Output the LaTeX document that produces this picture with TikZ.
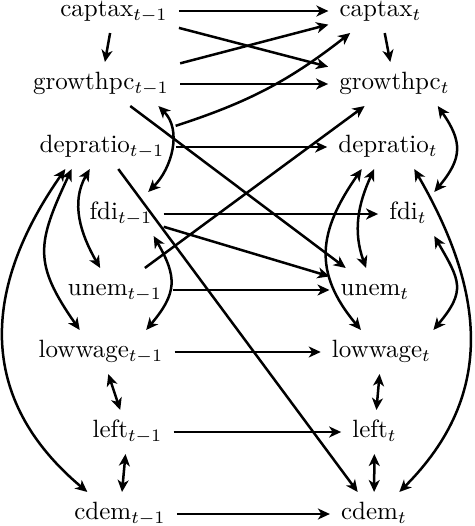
\documentclass[tikz,border=0pt]{standalone}
\usetikzlibrary{arrows.meta}
\begin{document}
\begin{tikzpicture}[x=0.4pt,y=0.4pt,
  v/.style={inner xsep=2pt, inner ysep=2pt, outer sep=2.5pt, text height=1.5ex, text depth=0.5ex},
  tip/.style={Stealth[length=4.8pt,width=4.4pt,inset=1.4pt]},
  e/.style={line width=1pt, -{Stealth[length=4.8pt,width=4.4pt,inset=1.4pt]}},
  ee/.style={line width=1pt, {Stealth[length=4.8pt,width=4.4pt,inset=1.4pt]}-{Stealth[length=4.8pt,width=4.4pt,inset=1.4pt]}}]
\useasboundingbox (0,0) rectangle (474,-526);
% left column
\node[v] (c1) at (114,-11) {captax$_{t-1}$};
\node[v] (g1) at (101,-84) {growthpc$_{t-1}$};
\node[v] (d1) at (102,-147) {depratio$_{t-1}$};
\node[v] (f1) at (121,-214) {fdi$_{t-1}$};
\node[v] (u1) at (115,-290) {unem$_{t-1}$};
\node[v] (w1) at (101,-352) {lowwage$_{t-1}$};
\node[v] (l1) at (127.5,-432) {left$_{t-1}$};
\node[v] (m1) at (120,-514) {cdem$_{t-1}$};
% right column
\node[v] (c2) at (380.5,-11) {captax$_{t}$};
\node[v] (g2) at (394.5,-84) {growthpc$_{t}$};
\node[v] (d2) at (388,-147) {depratio$_{t}$};
\node[v] (f2) at (408,-214) {fdi$_{t}$};
\node[v] (u2) at (375,-290) {unem$_{t}$};
\node[v] (w2) at (381.5,-352) {lowwage$_{t}$};
\node[v] (l2) at (374.5,-432) {left$_{t}$};
\node[v] (m2) at (374,-514) {cdem$_{t}$};
% horizontal
\draw[e] (c1) -- (c2);
\draw[e] (g1) -- (g2);
\draw[e] (d1) -- (d2);
\draw[e] (f1) -- (f2);
\draw[e] (u1) -- (u2);
\draw[e] (w1) -- (w2);
\draw[e] (l1) -- (l2);
\draw[e] (m1) -- (m2);
% diagonals
\draw[e] (c1) -- (g2);
\draw[e] (g1) -- (c2);
\draw[e] (d1) to[bend right=10] (c2);
\draw[e] (g1) -- (u2);
\draw[e] (u1) -- (g2);
\draw[e] (d1) -- (m2);
\draw[e] (f1) -- (u2);
% left verticals
\draw[e] (c1) -- (g1);
\draw[ee] (g1.-21) to[out=-45,in=45] (f1.39);
\draw[ee] (d1.-119) to[out=-120,in=120] (u1.124);
\draw[ee] (d1.-144) to[out=-115,in=125,looseness=1.3] (w1.134);
\draw[ee] (d1.-149) to[out=-125,in=140,looseness=1.15] (m1.146);
\draw[ee] (f1.-34) to[out=-60,in=50,looseness=1.3] (w1.26);
\draw[ee] (w1) -- (l1);
\draw[ee] (l1) -- (m1);
% right verticals
\draw[e] (c2) -- (g2);
\draw[ee] (g2.-27) to[out=-55,in=50,looseness=1.3] (f2.40);
\draw[ee] (d2.-122) to[out=-115,in=110] (u2.112);
\draw[ee] (d2.-140) to[out=-125,in=130,looseness=1.2] (w2.133);
\draw[ee] (d2.-40) to[out=-60,in=45,looseness=1.1] (m2.41);
\draw[ee] (f2.-40) to[out=-60,in=50,looseness=1.4] (w2.23);
\draw[ee] (w2) -- (l2);
\draw[ee] (l2) -- (m2);
\end{tikzpicture}
\end{document}
